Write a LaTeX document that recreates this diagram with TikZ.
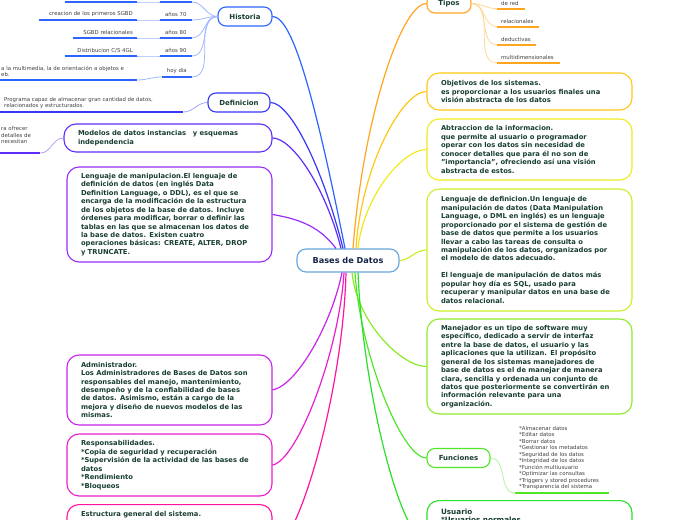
\documentclass[tikz,border=0pt]{standalone}
\usepackage{fontspec}
\setmainfont{DejaVu Sans}

\definecolor{inkgreen}{RGB}{24,62,52}
\definecolor{inknavy}{RGB}{22,36,72}
\definecolor{leafgray}{RGB}{64,64,64}
\definecolor{cenblue}{RGB}{100,165,220}
\definecolor{histblue}{RGB}{45,100,255}
\definecolor{defiblue}{RGB}{55,55,250}
\definecolor{modeviolet}{RGB}{95,45,250}
\definecolor{manippurple}{RGB}{150,45,250}
\definecolor{admimagenta}{RGB}{200,35,235}
\definecolor{respmagenta}{RGB}{235,30,205}
\definecolor{estrpink}{RGB}{255,20,160}
\definecolor{tipoorange}{RGB}{255,165,30}
\definecolor{objeyellow}{RGB}{255,200,20}
\definecolor{abtryellow}{RGB}{240,235,30}
\definecolor{ldeflime}{RGB}{200,240,40}
\definecolor{manegreen}{RGB}{140,235,40}
\definecolor{funcgreen}{RGB}{80,230,40}
\definecolor{usuagreen}{RGB}{40,225,40}

\newcommand{\cardfont}{\fontsize{6.8}{8.5}\selectfont\bfseries}
\newcommand{\leaffont}{\fontsize{5.4}{6.5}\selectfont}

\begin{document}
\begin{tikzpicture}[x=1bp,y=1bp,
    cen/.style={draw=cenblue, line width=1.1bp, rounded corners=9bp, fill=white,
      minimum width=102bp, minimum height=23bp,
      font=\fontsize{8.2}{10}\selectfont\bfseries, text=inknavy},
    title/.style={draw=#1, line width=1.1bp, rounded corners=8bp, fill=white,
      minimum height=19bp, inner xsep=2bp,
      font=\fontsize{7}{8.5}\selectfont\bfseries, text=inkgreen},
    card/.style={draw=#1, line width=1.1bp, rounded corners=12bp, fill=white,
      text width=177bp, inner xsep=14bp, inner ysep=6bp, align=left,
      font=\cardfont, text=inkgreen},
    leaf/.style={font=\leaffont, text=leafgray, inner xsep=4bp, inner ysep=3bp},
    wire/.style={draw=#1, line width=1.2bp},
    twig/.style={draw=#1, line width=0.8bp},
    stem/.style={draw=#1, line width=1.8bp}]
  \useasboundingbox (0,0) rectangle (696,-520);
  \clip (0,0) rectangle (696,-520);

  \node[cen] (cen) at (348,-260.5) {Bases de Datos};

  % left side
  \node[title=histblue, minimum width=54bp] (hist) at (245,-16.5) {Historia};
  \node[title=defiblue, minimum width=62bp] (defi) at (239,-102.5) {Definicion};
  \node[card=modeviolet, text width=180bp, minimum height=28bp] (mode) at (168,-138)
    {Modelos de datos instancias\ \ \ y esquemas\\independencia};
  \node[card=manippurple, minimum height=95bp] (manip) at (169.5,-214.5)
    {Lenguaje de manipulacion.El lenguaje de\\
     definición de datos (en inglés Data\\
     Definition Language, o DDL), es el que se\\
     encarga de la modificación de la estructura\\
     de los objetos de la base de datos. Incluye\\
     órdenes para modificar, borrar o definir las\\
     tablas en las que se almacenan los datos de\\
     la base de datos. Existen cuatro\\
     operaciones básicas: CREATE, ALTER, DROP\\
     y TRUNCATE.};
  \node[card=admimagenta, minimum height=70bp] (admi) at (169.5,-390)
    {Administrador.\\
     Los Administradores de Bases de Datos son\\
     responsables del manejo, mantenimiento,\\
     desempeño y de la confiabilidad de bases\\
     de datos. Asimismo, están a cargo de la\\
     mejora y diseño de nuevos modelos de las\\
     mismas.};
  \node[card=respmagenta, minimum height=62bp] (resp) at (169.5,-465)
    {Responsabilidades.\\
     {}*Copia de seguridad y recuperación\\
     {}*Supervisión de la actividad de las bases de\\
     datos\\
     {}*Rendimiento\\
     {}*Bloqueos};
  \node[card=estrpink, anchor=north, inner ysep=7bp, text depth=70bp] (estr) at (169.5,-504)
    {Estructura general del sistema.};

  % right side
  \node[title=tipoorange, minimum width=44bp] (tipo) at (449,-3.5) {Tipos};
  \node[card=objeyellow, minimum height=37bp] (obje) at (529.5,-91.5)
    {Objetivos de los sistemas.\\
     es proporcionar a los usuarios finales una\\
     visión abstracta de los datos};
  \node[card=abtryellow, minimum height=61bp] (abtr) at (529.5,-149.5)
    {Abtraccion de la informacion.\\
     que permite al usuario o programador\\
     operar con los datos sin necesidad de\\
     conocer detalles que para él no son de\\
     "importancia", ofreciendo así una visión\\
     abstracta de estos.};
  \node[card=ldeflime, minimum height=122bp] (ldef) at (529.5,-250)
    {Lenguaje de definicion.Un lenguaje de\\
     manipulación de datos (Data Manipulation\\
     Language, o DML en inglés) es un lenguaje\\
     proporcionado por el sistema de gestión de\\
     base de datos que permite a los usuarios\\
     llevar a cabo las tareas de consulta o\\
     manipulación de los datos, organizados por\\
     el modelo de datos adecuado.\\[8.5bp]
     El lenguaje de manipulación de datos más\\
     popular hoy día es SQL, usado para\\
     recuperar y manipular datos en una base de\\
     datos relacional.};
  \node[card=manegreen, minimum height=95bp] (mane) at (529.5,-366.5)
    {Manejador es un tipo de software muy\\
     específico, dedicado a servir de interfaz\\
     entre la base de datos, el usuario y las\\
     aplicaciones que la utilizan. El propósito\\
     general de los sistemas manejadores de\\
     base de datos es el de manejar de manera\\
     clara, sencilla y ordenada un conjunto de\\
     datos que posteriormente se convertirán en\\
     información relevante para una\\
     organización.};
  \node[title=funcgreen, minimum width=63bp] (func) at (458.5,-458) {Funciones};
  \node[card=usuagreen, anchor=north, inner ysep=8bp, text depth=60bp,
    font=\fontsize{7.3}{8}\selectfont\bfseries] (usua) at (529.5,-500)
    {Usuario\\{}*Usuarios normales.};

  % leaves
  \node[leaf, text width=24bp, align=center, anchor=south east] (y0) at (192,-2) {};
  \node[leaf, text width=24bp, align=center, anchor=south east] (y1) at (192,-20) {años 70};
  \node[leaf, text width=24bp, align=center, anchor=south east] (y2) at (192,-38) {años 80};
  \node[leaf, text width=24bp, align=center, anchor=south east] (y3) at (192,-56) {años 90};
  \node[leaf, text width=22bp, align=center, anchor=south east] (y4) at (192,-77) {hoy dia};
  \node[leaf, text width=64bp, align=right, anchor=south east] (l0) at (137,-2) {};
  \node[leaf, text width=90bp, align=right, anchor=south east] (l1) at (137,-20) {creacion de los primeros SGBD};
  \node[leaf, text width=56bp, align=right, anchor=south east] (l2) at (137,-38) {SGBD relacionales};
  \node[leaf, text width=64bp, align=right, anchor=south east] (l3) at (137,-56) {Distribucion C/S 4GL};
  \node[leaf, text width=135bp, inner xsep=1bp, align=left, anchor=south west] (l4) at (0,-80)
    {a la multimedia, la de orientación a objetos e\\eb.};
  \node[leaf, text width=175bp, align=left, anchor=south west] (dl) at (0,-112)
    {Programa capaz de almacenar gran cantidad de datos,\\relacionados y estructurados.};
  \node[leaf, text width=38bp, inner xsep=1bp, inner ysep=9bp, align=left, anchor=south west] (ml) at (0,-153)
    {ra ofrecer\\detalles de\\necesitan};
  \node[leaf, text width=20bp, align=left, anchor=south west] (t1) at (497,-8.7) {de red};
  \node[leaf, text width=34bp, align=left, anchor=south west] (t2) at (497,-26.7) {relacionales};
  \node[leaf, text width=31bp, align=left, anchor=south west] (t3) at (497,-44.7) {deductivas};
  \node[leaf, text width=55bp, align=left, anchor=south west] (t4) at (497,-62.7) {multidimensionales};
  \node[leaf, text width=86bp, align=left, anchor=south west] (fl) at (515,-493)
    {*Almacenar datos\\{}*Editar datos\\{}*Borrar datos\\{}*Gestionar los metadatos\\
     {}*Seguridad de los datos\\{}*Integridad de los datos\\{}*Función multiusuario\\
     {}*Optimizar las consultas\\{}*Triggers y stored procedures\\{}*Transparencia del sistema};

  \foreach \n/\c in {y0/histblue,y1/histblue,y2/histblue,y3/histblue,y4/histblue,
      l0/histblue,l1/histblue,l2/histblue,l3/histblue,l4/histblue,
      dl/defiblue,ml/modeviolet,t1/tipoorange,t2/tipoorange,t3/tipoorange,
      t4/tipoorange,fl/funcgreen}
    \draw[stem=\c] (\n.south west) -- (\n.south east);

  \foreach \n in {y0,y1,y2,y3,y4}
    \draw[twig=histblue!45] (hist.west) to[out=180,in=0] (\n.south east);
  \foreach \a/\b in {y0/l0,y1/l1,y2/l2,y3/l3,y4/l4}
    \draw[twig=histblue!45] (\a.south west) to[out=180,in=0] (\b.south east);
  \draw[twig=defiblue!45] (defi.west) to[out=180,in=0] (dl.south east);
  \draw[twig=modeviolet!45] (mode.west) to[out=180,in=0] (ml.south east);
  \foreach \n in {t1,t2,t3,t4}
    \draw[twig=tipoorange!45] (tipo.east) to[out=0,in=180] (\n.south west);
  \draw[twig=funcgreen!45] (func.east) to[out=0,in=180] (fl.south west);

  % branches
  \draw[wire=histblue] (hist.east) .. controls +(20,0) and +(-30,150) .. ([xshift=-3bp]cen.north);
  \draw[wire=defiblue] (defi.east) .. controls +(20,0) and +(-20,80) .. ([xshift=-5bp]cen.north);
  \draw[wire=modeviolet] (mode.east) .. controls +(20,0) and +(-15,60) .. ([xshift=-7bp]cen.north);
  \draw[wire=manippurple] (manip.east) .. controls +(30,-5) and +(-15,20) .. ([xshift=-12bp]cen.north);
  \draw[wire=admimagenta] (admi.east) .. controls +(25,5) and +(-10,-50) .. ([xshift=-6bp]cen.south);
  \draw[wire=respmagenta] (resp.east) .. controls +(25,5) and +(-5,-80) .. ([xshift=-4bp]cen.south);
  \draw[wire=estrpink] (estr.east) .. controls +(25,0) and +(-3,-120) .. ([xshift=-2bp]cen.south);
  \draw[wire=tipoorange] (tipo.west) .. controls +(-25,0) and +(10,130) .. ([xshift=5bp]cen.north);
  \draw[wire=objeyellow] (obje.west) .. controls +(-25,0) and +(5,80) .. ([xshift=8bp]cen.north);
  \draw[wire=abtryellow] (abtr.west) .. controls +(-25,0) and +(5,50) .. ([xshift=10bp]cen.north);
  \draw[wire=ldeflime] (ldef.west) .. controls +(-12,0) and +(10,0) .. (cen.east);
  \draw[wire=manegreen] (mane.west) .. controls +(-25,0) and +(5,-50) .. ([xshift=4bp]cen.south);
  \draw[wire=funcgreen] (func.west) .. controls +(-25,0) and +(5,-80) .. ([xshift=7bp]cen.south);
  \draw[wire=usuagreen] (usua.west) .. controls +(-25,0) and +(5,-120) .. ([xshift=10bp]cen.south);
\end{tikzpicture}
\end{document}
